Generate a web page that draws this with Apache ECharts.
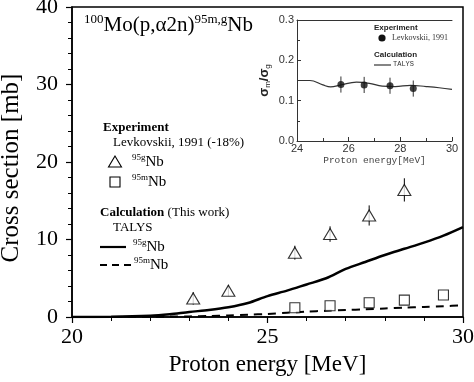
<!DOCTYPE html>
<html><head><meta charset="utf-8">
<script src="https://cdn.jsdelivr.net/npm/echarts@6/dist/echarts.min.js"></script>
<style>html,body{margin:0;padding:0;background:#fff}#c{width:474px;height:382px}</style>
</head><body><div id="c"></div>
<script>
// ---- data ----
const talysX = [20, 21, 22, 22.5, 23, 23.5, 24, 24.5, 25, 25.5, 26, 26.5, 27, 27.5, 28, 28.5, 29, 29.5, 30];
const talysG = [0, 0.02, 0.15, 0.35, 0.65, 0.9, 1.25, 1.8, 2.7, 3.4, 4.2, 5.0, 6.2, 7.1, 8.0, 8.8, 9.6, 10.5, 11.6];
const talysM = [0, 0, 0.02, 0.05, 0.08, 0.13, 0.2, 0.3, 0.4, 0.55, 0.7, 0.8, 0.9, 1.0, 1.1, 1.2, 1.3, 1.4, 1.5];
const expGX = [23.1, 24.0, 25.7, 26.6, 27.6, 28.5];
const expGY = [2.4, 3.4, 8.3, 10.7, 13.1, 16.4];
const expGErr = [0.8, 0.7, 0.9, 1.0, 1.3, 1.5];
const expMX = [25.7, 26.6, 27.6, 28.5, 29.5];
const expMY = [1.2, 1.45, 1.84, 2.18, 2.83];
const ratioX = [24, 24.5, 25, 25.3, 25.7, 26.3, 26.8, 27.3, 27.8, 28.4, 29, 29.5, 30];
const ratioY = [0.150, 0.150, 0.139, 0.134, 0.139, 0.146, 0.143, 0.136, 0.135, 0.138, 0.135, 0.132, 0.128];
const ratioExpX = [25.7, 26.6, 27.6, 28.5];
const ratioExpY = [0.140, 0.139, 0.137, 0.130];
const ratioExpErr = [0.02, 0.02, 0.02, 0.02];
const mainXTicks = [20, 25, 30];
const mainYTicks = [0, 10, 20, 30, 40];

const SERIF = '"Liberation Serif", "DejaVu Serif", serif';
const SANS = '"Liberation Sans", Arial, sans-serif';

function zip(a, b) { return a.map((v, i) => [v, b[i]]); }
function errData(x, y, e) { return x.map((v, i) => [v, y[i] - e[i], y[i] + e[i]]); }
function errRender(color, w) {
  return function (params, api) {
    const p1 = api.coord([api.value(0), api.value(1)]);
    const p2 = api.coord([api.value(0), api.value(2)]);
    return { type: 'line', shape: { x1: p1[0], y1: p1[1], x2: p2[0], y2: p2[1] }, style: { stroke: color, lineWidth: w } };
  };
}

const chart = echarts.init(document.getElementById('c'), null, { renderer: 'canvas' });

const supRich = {
  n: { fontFamily: SERIF, fontSize: 15, color: '#000', lineHeight: 18 },
  s: { fontFamily: SERIF, fontSize: 9, color: '#000', verticalAlign: 'top' }
};

chart.setOption({
  animation: false,
  backgroundColor: '#fff',
  title: {
    left: 84, top: 13, padding: 0,
    text: '{s|100}{n|Mo(p,α2n)}{s|95m,g}{n|Nb}',
    textStyle: {
      fontWeight: 'normal',
      rich: {
        n: { fontFamily: SERIF, fontSize: 21, fontWeight: 'normal', color: '#000', lineHeight: 25 },
        s: { fontFamily: SERIF, fontSize: 13, fontWeight: 'normal', color: '#000', verticalAlign: 'top' }
      }
    }
  },
  grid: [
    { left: 72, right: 11, top: 7, bottom: 65, outerBoundsMode: 'none', containLabel: false, show: true, borderColor: '#000', borderWidth: 1.5, backgroundColor: 'transparent' },
    { left: 297, top: 20, width: 155, height: 121, outerBoundsMode: 'none', containLabel: false }
  ],
  xAxis: [
    {
      gridIndex: 0, type: 'value', min: mainXTicks[0], max: mainXTicks[mainXTicks.length - 1], interval: 5,
      name: 'Proton energy [MeV]', nameLocation: 'middle', nameGap: 36,
      nameTextStyle: { fontFamily: SERIF, fontSize: 23, color: '#000' },
      axisLine: { lineStyle: { color: '#000', width: 1.5 } },
      axisTick: { length: 6, lineStyle: { color: '#000', width: 1.2 } },
      minorTick: { show: true, splitNumber: 5, length: 4, lineStyle: { color: '#000', width: 1 } },
      splitLine: { show: false },
      axisLabel: { fontFamily: SERIF, fontSize: 22, color: '#000', margin: 9 }
    },
    {
      gridIndex: 1, type: 'value', min: 24, max: 30, interval: 2,
      name: 'Proton energy[MeV]', nameLocation: 'middle', nameGap: 14,
      nameTextStyle: { fontFamily: '"Liberation Mono", monospace', fontSize: 9.5, color: '#444' },
      axisLine: { lineStyle: { color: '#333', width: 1 } },
      axisTick: { inside: true, length: 4, lineStyle: { color: '#333' } },
      minorTick: { show: true, splitNumber: 2, length: 3, lineStyle: { color: '#333' } },
      splitLine: { show: false },
      axisLabel: { fontFamily: SANS, fontSize: 11, color: '#333', margin: 2 }
    },
    {
      gridIndex: 1, type: 'value', min: 24, max: 30, position: 'top',
      axisLine: { lineStyle: { color: '#333', width: 1 } },
      axisTick: { show: false }, axisLabel: { show: false }, splitLine: { show: false }
    }
  ],
  yAxis: [
    {
      gridIndex: 0, type: 'value', min: mainYTicks[0], max: mainYTicks[mainYTicks.length - 1], interval: 10,
      name: 'Cross section [mb]', nameLocation: 'middle', nameGap: 48,
      nameTextStyle: { fontFamily: SERIF, fontSize: 25, color: '#000', padding: [0, 12, 0, 0] },
      axisLine: { lineStyle: { color: '#000', width: 1.5 } },
      axisTick: { length: 6, lineStyle: { color: '#000', width: 1.2 } },
      minorTick: { show: true, splitNumber: 5, length: 4, lineStyle: { color: '#000', width: 1 } },
      splitLine: { show: false },
      axisLabel: { fontFamily: SERIF, fontSize: 22, color: '#000', margin: 14 }
    },
    {
      gridIndex: 1, type: 'value', min: 0, max: 0.3, interval: 0.1,
      name: '{a|σ}{b|m}{a|/σ}{b|g}', nameLocation: 'middle', nameGap: 25,
      nameTextStyle: {
        rich: {
          a: { fontFamily: SANS, fontSize: 13, color: '#222', fontWeight: 'bold', lineHeight: 16 },
          b: { fontFamily: SANS, fontSize: 8, color: '#222', verticalAlign: 'bottom' }
        }
      },
      axisLine: { lineStyle: { color: '#333', width: 1 } },
      axisTick: { inside: true, length: 4, lineStyle: { color: '#333' } },
      minorTick: { show: true, splitNumber: 2, length: 3, lineStyle: { color: '#333' } },
      splitLine: { show: false },
      axisLabel: { fontFamily: SANS, fontSize: 11, color: '#333', margin: 3, formatter: v => v.toFixed(1) }
    }
  ],
  series: [
    {
      type: 'line', xAxisIndex: 0, yAxisIndex: 0, data: zip(talysX, talysG), smooth: 0.3,
      symbol: 'none', lineStyle: { color: '#000', width: 2.5 }, z: 3
    },
    {
      type: 'line', xAxisIndex: 0, yAxisIndex: 0, data: zip(talysX, talysM), smooth: 0.3,
      symbol: 'none', lineStyle: { color: '#000', width: 2, type: [8, 6] }, z: 3
    },
    {
      type: 'custom', xAxisIndex: 0, yAxisIndex: 0, data: errData(expGX, expGY, expGErr),
      renderItem: errRender('#000', 1), z: 4
    },
    {
      type: 'scatter', xAxisIndex: 0, yAxisIndex: 0, data: zip(expGX, expGY),
      symbol: 'triangle', symbolSize: [13, 11],
      itemStyle: { color: '#fff', borderColor: '#000', borderWidth: 1.1 }, z: 5
    },
    {
      type: 'scatter', xAxisIndex: 0, yAxisIndex: 0, data: zip(expMX, expMY),
      symbol: 'rect', symbolSize: 10,
      itemStyle: { color: '#fff', borderColor: '#000', borderWidth: 1.1 }, z: 5
    },
    {
      type: 'line', xAxisIndex: 1, yAxisIndex: 1, data: zip(ratioX, ratioY), smooth: 0.4,
      symbol: 'none', lineStyle: { color: '#333', width: 1.2 }, z: 3
    },
    {
      type: 'custom', xAxisIndex: 1, yAxisIndex: 1, data: errData(ratioExpX, ratioExpY, ratioExpErr),
      renderItem: errRender('#333', 1), z: 4
    },
    {
      type: 'scatter', xAxisIndex: 1, yAxisIndex: 1, data: zip(ratioExpX, ratioExpY),
      symbol: 'circle', symbolSize: 7, itemStyle: { color: '#111' }, z: 5
    }
  ],
  graphic: [
    // main legend
    { type: 'text', left: 103, top: 121, style: { text: 'Experiment', font: 'bold 13px ' + SERIF, fill: '#000' } },
    { type: 'text', left: 113, top: 136, style: { text: 'Levkovskii, 1991 (-18%)', font: '13px ' + SERIF, fill: '#000' } },
    { type: 'polygon', shape: { points: [[115, 156], [108.5, 167], [121.5, 167]] }, style: { fill: '#fff', stroke: '#000', lineWidth: 1.1 } },
    { type: 'text', left: 132, top: 153, style: { rich: supRich, text: '{s|95g}{n|Nb}' } },
    { type: 'rect', shape: { x: 110, y: 177, width: 10, height: 10 }, style: { fill: '#fff', stroke: '#000', lineWidth: 1.1 } },
    { type: 'text', left: 132, top: 173, style: { rich: supRich, text: '{s|95m}{n|Nb}' } },
    { type: 'text', left: 100, top: 206, style: { rich: { b: { font: 'bold 13px ' + SERIF, fill: '#000' }, r: { font: '13px ' + SERIF, fill: '#000' } }, text: '{b|Calculation} {r|(This work)}' } },
    { type: 'text', left: 113, top: 221, style: { text: 'TALYS', font: '13px ' + SERIF, fill: '#000' } },
    { type: 'line', shape: { x1: 100, y1: 247, x2: 126, y2: 247 }, style: { stroke: '#000', lineWidth: 2.2 } },
    { type: 'text', left: 133, top: 238, style: { rich: supRich, text: '{s|95g}{n|Nb}' } },
    { type: 'line', shape: { x1: 100, y1: 265, x2: 131, y2: 265 }, style: { stroke: '#000', lineWidth: 2, lineDash: [7, 5] } },
    { type: 'text', left: 134, top: 256, style: { rich: supRich, text: '{s|95m}{n|Nb}' } },
    // inset legend
    { type: 'text', left: 374, top: 24, style: { text: 'Experiment', font: 'bold 8px ' + SANS, fill: '#222' } },
    { type: 'circle', shape: { cx: 382, cy: 38, r: 3.6 }, style: { fill: '#111' } },
    { type: 'text', left: 392, top: 34, style: { text: 'Levkovskii, 1991', font: '8px ' + SERIF, fill: '#333' } },
    { type: 'text', left: 374, top: 51, style: { text: 'Calculation', font: 'bold 8px ' + SANS, fill: '#222' } },
    { type: 'line', shape: { x1: 374, y1: 65, x2: 391, y2: 65 }, style: { stroke: '#333', lineWidth: 1.2 } },
    { type: 'text', left: 393, top: 61, style: { text: 'TALYS', font: '7px "Liberation Mono", monospace', fill: '#333' } }
  ]
});
</script></body></html>
